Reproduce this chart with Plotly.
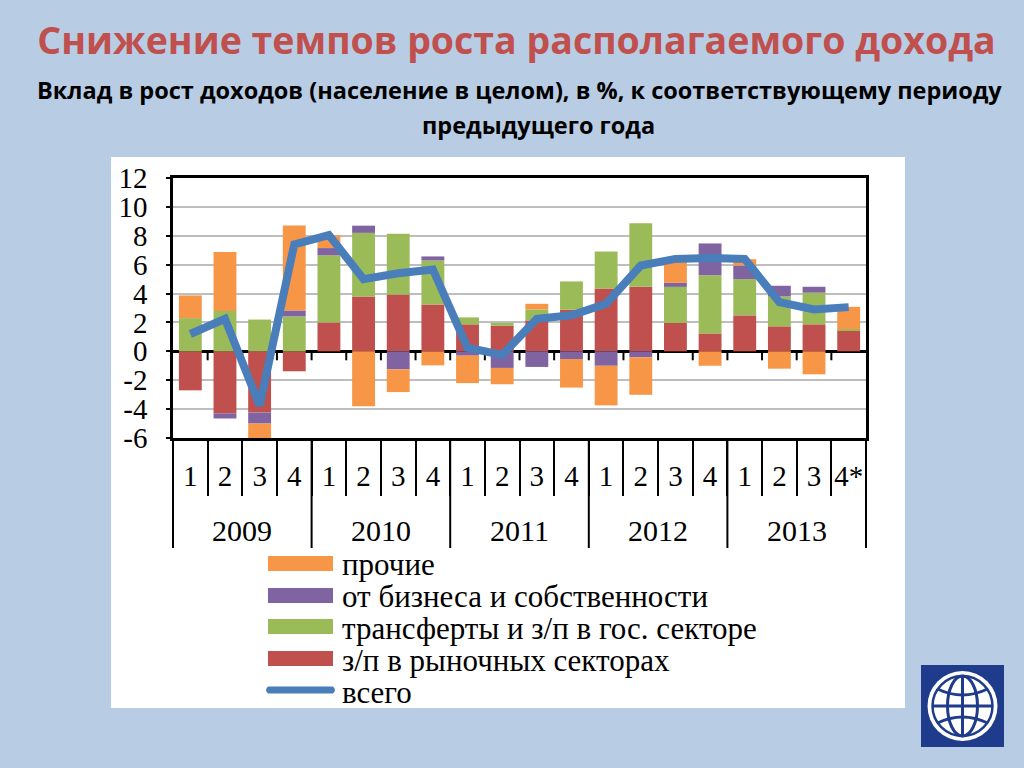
import plotly.graph_objects as go

years = ["2009", "2010", "2011", "2012", "2013"]
quarters = ["1", "2", "3", "4"] * 4 + ["1", "2", "3", "4*"]
categories = [y + "-" + str(q) for y in years for q in (1, 2, 3, 4)]

# values, in %
market_wages = [-2.7, -4.3, -4.24, -1.38, 2.0, 3.8, 3.94, 3.25, 1.87, 1.77, 2.14, 2.88, 4.35, 4.47, 1.96, 1.24, 2.49, 1.73, 1.87, 1.47]
transfers = [2.3, 2.8, 2.2, 2.42, 4.65, 4.4, 4.2, 3.04, 0.48, 0.2, 0.76, 1.96, 2.56, 4.4, 2.5, 4.03, 2.51, 2.07, 2.19, 0.07]
business = [0, -0.35, -0.76, 0.41, 0.5, 0.5, -1.25, 0.28, -0.3, -1.15, -1.08, -0.53, -1.0, -0.41, 0.28, 2.2, 0.94, 0.74, 0.41, 0]
other = [1.57, 4.08, -1.0, 5.88, 0.88, -3.8, -1.57, -0.97, -1.9, -1.13, 0.39, -1.98, -2.74, -2.6, 1.43, -1.0, 0.44, -1.2, -1.59, 1.54]
total = [1.2, 2.25, -3.75, 7.4, 8.05, 5.0, 5.4, 5.67, 0.25, -0.25, 2.25, 2.5, 3.3, 5.94, 6.4, 6.47, 6.4, 3.4, 2.9, 3.06]

y_ticks = [12, 10, 8, 6, 4, 2, 0, -2, -4, -6]
y_labels = ["12", "10", "8", "6", "4", "2", "0", "-2", "-4", "-6"]

legend_names = ["прочие", "от бизнеса и собственности", "трансферты и з/п в гос. секторе", "з/п в рыночных секторах", "всего"]

RED = "#C0504D"
GREEN = "#9BBB59"
PURPLE = "#8064A2"
ORANGE = "#F79646"
BLUE = "#4A7EBB"
NAVY = "#1F3B8C"
SERIF = "Liberation Serif"
SANS = "Open Sans"

# plot area in pixels
L, R, T, B = 173, 866, 178, 438


def px(x):
    return (x - L) / (R - L)


def py(y):
    return (B - y) / (B - T)


fig = go.Figure()
for vals, col in [(market_wages, RED), (transfers, GREEN), (business, PURPLE), (other, ORANGE)]:
    fig.add_trace(go.Bar(x=categories, y=vals, marker_color=col, marker_line_width=0))
fig.add_trace(go.Scatter(x=categories, y=total, mode="lines", line=dict(color=BLUE, width=8)))

shapes = []
# white panel behind the chart
shapes.append(dict(type="rect", xref="paper", yref="paper", x0=px(111), x1=px(905), y0=py(708), y1=py(157),
    fillcolor="white", line_width=0, layer="below"))
# small ticks on the zero line
for i in range(1, 20):
    shapes.append(dict(type="line", xref="x", yref="y", x0=i - 0.5, x1=i - 0.5, y0=0, y1=-0.62,
        line=dict(color="black", width=2), layer="below"))
# long dividers between the years
for i in range(0, 21, 4):
    shapes.append(dict(type="line", xref="paper", yref="paper", x0=i / 20, x1=i / 20, y0=py(438), y1=py(548),
        line=dict(color="black", width=2)))

annotations = []
for i, y in enumerate(years):
    annotations.append(dict(xref="paper", yref="paper", x=(i * 4 + 2) / 20, y=py(530), text=y, showarrow=False,
        font=dict(family=SERIF, size=30, color="black"), xanchor="center", yanchor="middle"))

# legend
swatch_y = [563.5, 595.5, 626.5, 658.5]
for col, sy in zip([ORANGE, PURPLE, GREEN, RED], swatch_y):
    shapes.append(dict(type="rect", xref="paper", yref="paper", x0=px(268), x1=px(333), y0=py(sy + 7.5), y1=py(sy - 7.5),
        fillcolor=col, line_width=0))
lx0, lx1, ly = px(268), px(333), 690
shapes.append(dict(type="path", xref="paper", yref="paper", fillcolor=BLUE, line_width=0,
    path=f"M {lx0} {py(ly - 3.5)} L {lx1} {py(ly - 3.5)} Q {px(337)} {py(ly)} {lx1} {py(ly + 3.5)} "
         f"L {lx0} {py(ly + 3.5)} Q {px(264)} {py(ly)} {lx0} {py(ly - 3.5)} Z"))
for name, ty in zip(legend_names, [564, 596, 628, 660, 692]):
    annotations.append(dict(xref="paper", yref="paper", x=px(340), y=py(ty), text=name, showarrow=False,
        font=dict(family=SERIF, size=31, color="black"), xanchor="left", yanchor="middle"))

# subtitle
annotations.append(dict(xref="paper", yref="paper", x=px(519), y=py(90),
    text="<b>Вклад в рост доходов (население в целом), в %, к соответствующему периоду</b>",
    showarrow=False, font=dict(family=SANS, size=23.5, color="black"), xanchor="center", yanchor="middle"))
annotations.append(dict(xref="paper", yref="paper", x=px(538), y=py(125), text="<b>предыдущего года</b>",
    showarrow=False, font=dict(family=SANS, size=23.5, color="black"), xanchor="center", yanchor="middle"))

# logo
cx, cy = 962.5, 706
shapes.append(dict(type="rect", xref="paper", yref="paper", x0=px(921), x1=px(1004), y0=py(747), y1=py(665),
    fillcolor=NAVY, line_width=0))


def oval(rx, ry, **kw):
    return dict(type="circle", xref="paper", yref="paper", x0=px(cx - rx), x1=px(cx + rx), y0=py(cy + ry), y1=py(cy - ry), **kw)


def globe_line(points):
    return dict(type="path", xref="paper", yref="paper", path=points, line=dict(color=NAVY, width=3))


shapes.append(oval(35, 35, fillcolor="white", line_width=0))
shapes.append(oval(30, 30, fillcolor="white", line=dict(color=NAVY, width=2.5)))
shapes.append(oval(15, 30, line=dict(color=NAVY, width=3)))
shapes.append(globe_line(f"M {px(cx)} {py(cy - 30)} L {px(cx)} {py(cy + 30)}"))
shapes.append(globe_line(f"M {px(cx - 30)} {py(cy)} L {px(cx + 30)} {py(cy)}"))
shapes.append(globe_line(f"M {px(cx - 25)} {py(cy - 17)} Q {px(cx)} {py(cy - 5)} {px(cx + 25)} {py(cy - 17)}"))
shapes.append(globe_line(f"M {px(cx - 25)} {py(cy + 17)} Q {px(cx)} {py(cy + 5)} {px(cx + 25)} {py(cy + 17)}"))

fig.update_layout(
    width=1024, height=768,
    margin=dict(l=L, r=1024 - R, t=T, b=768 - B, pad=0),
    paper_bgcolor="#B8CCE4",
    plot_bgcolor="rgba(0,0,0,0)",
    barmode="relative",
    bargap=0.34,
    showlegend=False,
    title=dict(text="<b>Снижение темпов роста располагаемого дохода</b>", x=516.5 / 1024, xanchor="center",
        y=1 - 41 / 768, yanchor="middle", font=dict(family=SANS, size=37.5, color=RED)),
    shapes=shapes,
    annotations=annotations,
)
fig.update_xaxes(type="category", categoryorder="array", categoryarray=categories, tickmode="array", tickvals=categories,
    ticktext=quarters, tickson="boundaries", ticks="outside", ticklen=55, tickwidth=2, tickcolor="black",
    ticklabelstandoff=10, tickfont=dict(family=SERIF, size=29, color="black"), tickangle=0,
    showline=True, mirror=True, linecolor="black", linewidth=2.5, showgrid=False, zeroline=False)
fig.update_yaxes(range=[-6, 12], tickmode="array", tickvals=y_ticks, ticktext=y_labels, ticks="outside", ticklen=4, tickwidth=2,
    ticklabelstandoff=13, tickcolor="black", tickfont=dict(family=SERIF, size=29, color="black"), showline=True, mirror=True,
    linecolor="black", linewidth=2.5, showgrid=True, gridcolor="#BEBEBE", gridwidth=2, zeroline=True, zerolinecolor="black",
    zerolinewidth=2.5)

fig.write_html("out.html", config=dict(displayModeBar=False),
    post_script="document.body.style.margin='0';document.body.style.overflow='hidden';")
